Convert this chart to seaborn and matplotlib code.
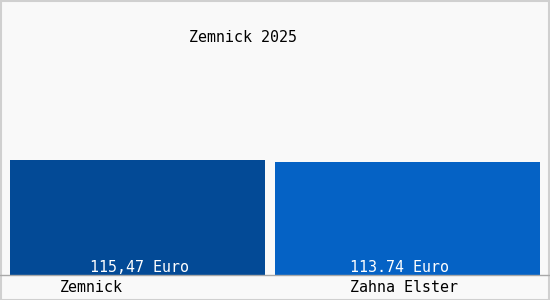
import matplotlib
matplotlib.use("Agg")
import matplotlib.pyplot as plt
import seaborn as sns
import pandas as pd
from matplotlib.lines import Line2D
from matplotlib.patches import Rectangle

# Data
categories = ["Zemnick", "Zahna Elster"]
values = [115.47, 113.74]
value_labels = ["115,47 Euro", "113.74 Euro"]
title = "Zemnick 2025"
bar_colors = ["#034a96", "#0562c5"]

df = pd.DataFrame({"cat": categories, "val": values})

sns.set_theme(style="white")
plt.rcParams["font.family"] = ["DejaVu Sans Mono", "DejaVu Sans"]

W, H = 550, 300
fig = plt.figure(figsize=(W / 100, H / 100), dpi=100)
fig.patch.set_facecolor("#f9f9f9")

ax = fig.add_axes([10 / W, 25 / H, 530 / W, 275 / H])
ax.set_facecolor("none")
sns.barplot(data=df, x="cat", y="val", hue="cat", palette=bar_colors,
            legend=False, width=1.0, saturation=1, ax=ax, edgecolor="none",
            linewidth=0)
ax.set_xlim(-0.5, 1.5)
ax.set_ylim(0, 115.47 * 275 / 115)
# first bar is a bit narrower in the reference (left-aligned)
p0 = ax.patches[0]
p0.set_width(p0.get_width() * 255 / 265)
for s in ax.spines.values():
    s.set_visible(False)
ax.set_xticks([])
ax.set_yticks([])
ax.set_xlabel("")
ax.set_ylabel("")

fs = 10.8
# value labels inside bars
label_dx = [-3, -8]
for i, lab in enumerate(value_labels):
    ax.annotate(lab, xy=(i, 0), xytext=(label_dx[i], 7), textcoords="offset pixels",
                ha="center", va="center", color="white", fontsize=fs)

# baseline
fig.add_artist(Line2D([0, 1], [25 / H, 25 / H], color="#a8a8a8", lw=1,
                      transform=fig.transFigure))

# category labels
label_x = [91, 404]
for lx, lab in zip(label_x, categories):
    fig.text(lx / W, 1 - 288 / H, lab, ha="center", va="center",
             color="black", fontsize=fs)

# title
fig.text(243 / W, 1 - 38 / H, title, ha="center", va="center",
         color="black", fontsize=fs)

# border
fig.add_artist(Rectangle((0.5 / W, 0.5 / H), 1 - 1.5 / W, 1 - 1.5 / H,
                         fill=False, edgecolor="#d0d0d0", lw=1.5,
                         transform=fig.transFigure))

fig.savefig("out.png", dpi=100, facecolor=fig.get_facecolor())
